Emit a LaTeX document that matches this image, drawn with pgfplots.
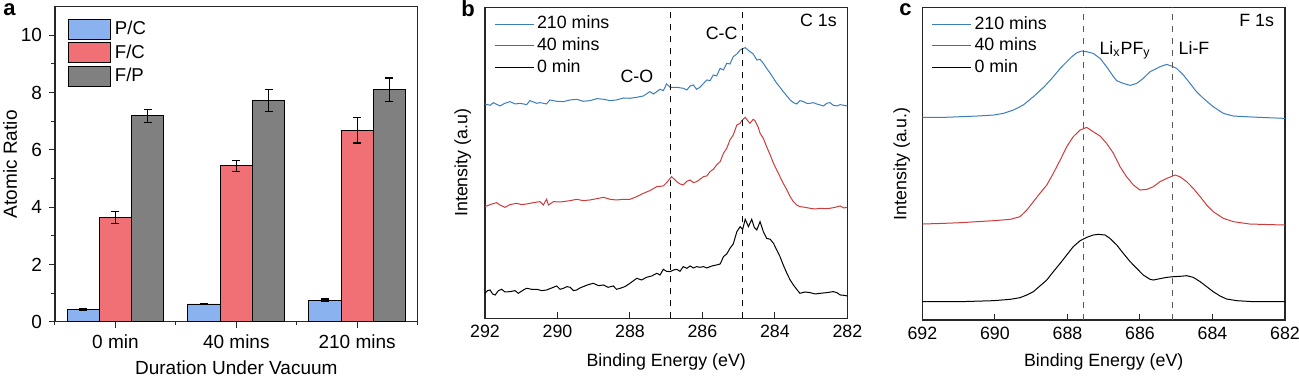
\documentclass[border=0pt]{standalone}
\usepackage{fontspec}
\setmainfont{Liberation Sans}
\usepackage{pgfplots}
\pgfplotsset{compat=1.18}
\definecolor{barblue}{RGB}{138,178,238}
\definecolor{barred}{RGB}{240,112,118}
\definecolor{bargray}{RGB}{128,128,128}
\definecolor{lineblue}{RGB}{60,125,190}
\definecolor{linered}{RGB}{205,60,60}
\newcommand\fa{\fontsize{9.5}{11}\selectfont}
\newcommand\fb{\fontsize{8.9}{10}\selectfont}
\pgfplotsset{
  every axis/.append style={
    scale only axis, anchor=south west,
    axis line style={line width=0.6pt, black!85},
    every tick/.style={line width=0.5pt, black!85},
    /pgf/number format/assume math mode=true,
    clip=false,
  },
}
\begin{document}
\begin{tikzpicture}
\useasboundingbox (0,0) rectangle (649.5pt,188pt);
% ---------------- panel a ----------------
\begin{axis}[
  at={(27.5pt,27.15pt)}, width=181.3pt, height=157.5pt,
  tick label style={font=\fa},
  ybar, bar width=0.267,
  xmin=-0.5, xmax=2.5, ymin=0, ymax=11,
  xtick={0,1,2}, xticklabels={0 min,40 mins,210 mins},
  minor xtick={-0.5,0.5,1.5,2.5},
  ytick={0,2,4,6,8,10}, minor ytick={1,3,5,7,9},
  tick pos=left, tick align=outside,
  major tick length=3pt, minor tick length=1.8pt,
  xlabel={Duration Under Vacuum}, ylabel={Atomic Ratio},
  xlabel style={at={(axis description cs:0.5,-0.147)}, anchor=center, font=\fa},
  ylabel style={at={(axis description cs:-0.124,0.5)}, anchor=center, font=\fa},
  legend cell align=left,
  legend image code/.code={\draw[#1, draw=black, line width=0.45pt] (0pt,-5pt) rectangle (21pt,5pt);},
  legend style={at={(axis description cs:0.036,0.965)}, anchor=north west, draw=none, fill=none,
     inner sep=0pt, row sep=1pt, font=\fontsize{9.3}{11}\selectfont,
     nodes={inner ysep=0.6pt, inner xsep=1.8pt, text height=7.5pt, text depth=2.2pt}},
  error bars/y dir=both, error bars/y explicit,
  error bars/error mark options={rotate=90, mark size=2pt, line width=0.6pt, black},
  error bars/error bar style={line width=0.6pt, black},
]
\addplot[fill=barblue, draw=black, line width=0.45pt, bar shift=-0.267]
  coordinates {(0,0.44) +- (0,0.03) (1,0.62) +- (0,0.02) (2,0.75) +- (0,0.04)};
\addplot[fill=barred, draw=black, line width=0.45pt, bar shift=0]
  coordinates {(0,3.63) +- (0,0.21) (1,5.44) +- (0,0.19) (2,6.68) +- (0,0.44)};
\addplot[fill=bargray, draw=black, line width=0.45pt, bar shift=0.267]
  coordinates {(0,7.19) +- (0,0.23) (1,7.72) +- (0,0.39) (2,8.10) +- (0,0.41)};
\legend{P/C,F/C,F/P}
\end{axis}
\node[font=\fontsize{11}{13}\selectfont\bfseries] at (4.8pt,183pt) {a};
% ---------------- panel b ----------------
\begin{axis}[
  at={(242.5pt,28.85pt)}, width=181.2pt, height=155.5pt,
  tick label style={font=\fb},
  x dir=reverse, xmin=282, xmax=292, ymin=45, ymax=978,
  xtick={282,284,286,288,290,292}, ytick=\empty,
  xtick pos=bottom, tick align=inside, major tick length=3pt,
  xlabel={Binding Energy (eV)}, ylabel={Intensity (a.u)},
  xlabel style={at={(axis description cs:0.5,-0.14)}, anchor=center, font=\fb},
  ylabel style={at={(axis description cs:-0.061,0.5)}, anchor=center, font=\fb},
  legend cell align=left,
  legend image code/.code={\draw[#1] (0pt,0pt) -- (19.5pt,0pt);},
  legend style={at={(axis description cs:0.024,0.98)}, anchor=north west, draw=none, fill=none,
     inner sep=0pt, row sep=0.5pt, font=\fb,
     nodes={inner ysep=1pt, inner xsep=1.5pt, text height=6.5pt, text depth=1.8pt}},
]
\addplot[lineblue, line width=0.5pt] coordinates {
(292.00,688) (291.86,684) (291.77,692) (291.59,682) (291.45,690) (291.31,695) (291.17,688) (291.03,690)
(290.85,686) (290.76,698) (290.57,690) (290.48,692) (290.30,688) (290.21,700) (290.02,696) (289.84,695)
(289.65,700) (289.47,702) (289.29,696) (289.10,698) (288.91,704) (288.73,702) (288.55,698) (288.37,700)
(288.18,706) (288.00,705) (287.81,708) (287.63,712) (287.45,725) (287.35,718) (287.17,732) (287.08,728)
(286.99,748) (286.89,738) (286.71,738) (286.53,735) (286.43,730) (286.34,742) (286.25,745) (286.16,732)
(286.07,738) (285.88,760) (285.79,758) (285.70,775) (285.61,772) (285.51,795) (285.42,790) (285.33,810)
(285.24,808) (285.15,830) (285.05,838) (284.96,850) (284.82,857) (284.69,845) (284.60,838) (284.50,820)
(284.41,822) (284.32,810) (284.23,795) (284.13,780) (284.04,765) (283.95,750) (283.86,738) (283.77,725)
(283.67,712) (283.58,700) (283.49,692) (283.40,688) (283.31,698) (283.21,695) (283.12,690) (283.03,690)
(282.94,692) (282.85,688) (282.75,685) (282.66,682) (282.57,690) (282.48,692) (282.39,684) (282.29,682)
(282.20,686) (282.10,684) (282.00,682)};
\addplot[linered, line width=0.5pt] coordinates {
(292.00,380) (291.86,386) (291.68,392) (291.59,385) (291.45,378) (291.31,386) (291.13,390) (290.99,386)
(290.85,388) (290.66,392) (290.48,395) (290.39,385) (290.30,402) (290.25,385) (290.11,395) (289.93,394)
(289.84,395) (289.65,398) (289.47,402) (289.29,398) (289.10,400) (288.91,404) (288.73,408) (288.55,402)
(288.37,400) (288.18,402) (288.00,402) (287.81,410) (287.63,420) (287.45,428) (287.26,440) (287.08,442)
(286.99,452) (286.85,470) (286.71,455) (286.62,448) (286.53,445) (286.43,456) (286.34,460) (286.25,452)
(286.16,455) (286.07,462) (285.97,470) (285.88,472) (285.79,485) (285.70,492) (285.61,505) (285.51,515)
(285.42,540) (285.33,555) (285.24,580) (285.15,595) (285.05,625) (284.96,630) (284.92,638) (284.82,648)
(284.73,635) (284.69,630) (284.60,642) (284.55,638) (284.46,618) (284.41,600) (284.32,585) (284.23,560)
(284.13,535) (284.04,510) (283.95,490) (283.86,470) (283.77,450) (283.67,430) (283.58,410) (283.49,395)
(283.40,385) (283.31,380) (283.17,378) (283.03,375) (282.89,373) (282.75,375) (282.61,374) (282.48,375)
(282.34,378) (282.20,382) (282.10,376) (282.00,378)};
\addplot[black, line width=0.5pt] coordinates {
(292.00,120) (291.93,128) (291.86,130) (291.79,118) (291.72,115) (291.63,128) (291.54,132) (291.45,124)
(291.31,125) (291.17,128) (291.08,120) (290.94,130) (290.85,135) (290.71,132) (290.57,132) (290.43,128)
(290.30,130) (290.16,136) (290.02,142) (289.93,132) (289.84,135) (289.74,140) (289.65,138) (289.56,128)
(289.47,130) (289.38,136) (289.29,140) (289.15,146) (289.01,150) (288.87,143) (288.73,145) (288.60,138)
(288.46,142) (288.37,132) (288.27,135) (288.14,140) (288.00,150) (287.90,158) (287.81,165) (287.68,160)
(287.54,168) (287.40,172) (287.26,180) (287.17,175) (287.08,192) (286.99,186) (286.89,185) (286.80,190)
(286.71,192) (286.62,186) (286.53,200) (286.43,195) (286.34,202) (286.25,196) (286.16,200) (286.07,198)
(285.97,200) (285.88,196) (285.79,200) (285.70,203) (285.61,205) (285.51,208) (285.42,230) (285.33,238)
(285.24,255) (285.15,268) (285.05,305) (284.96,320) (284.89,312) (284.82,342) (284.73,320) (284.64,342)
(284.57,318) (284.50,310) (284.41,335) (284.32,305) (284.23,285) (284.13,282) (284.04,270) (283.95,250)
(283.86,230) (283.77,205) (283.67,180) (283.58,160) (283.49,145) (283.40,132) (283.31,120) (283.17,124)
(283.03,122) (282.89,118) (282.75,120) (282.57,122) (282.39,125) (282.29,122) (282.20,115) (282.10,114)
(282.00,112)};
\addplot[black, dashed, line width=0.6pt, forget plot] coordinates {(286.88,45) (286.88,978)};
\addplot[black, dashed, line width=0.6pt, forget plot] coordinates {(284.89,45) (284.89,978)};
\legend{210 mins,40 mins,0 min}
\node[font=\fb] at (axis cs:287.81,770) {C-O};
\node[font=\fb] at (axis cs:285.47,900) {C-C};
\node[font=\fb] at (axis cs:282.80,940) {C 1s};
\end{axis}
\node[font=\fontsize{11}{13}\selectfont\bfseries] at (234pt,183.5pt) {b};
% ---------------- panel c ----------------
\begin{axis}[
  at={(461.2pt,28pt)}, width=181.3pt, height=156.3pt,
  tick label style={font=\fb},
  x dir=reverse, xmin=682, xmax=692, ymin=40, ymax=978,
  xtick={682,684,686,688,690,692}, ytick=\empty,
  xtick pos=bottom, tick align=inside, major tick length=3pt,
  xlabel={Binding Energy (eV)}, ylabel={Intensity (a.u.)},
  xlabel style={at={(axis description cs:0.5,-0.133)}, anchor=center, font=\fb},
  ylabel style={at={(axis description cs:-0.057,0.5)}, anchor=center, font=\fb},
  legend cell align=left,
  legend image code/.code={\draw[#1] (0pt,0pt) -- (19.5pt,0pt);},
  legend style={at={(axis description cs:0.024,0.98)}, anchor=north west, draw=none, fill=none,
     inner sep=0pt, row sep=0.5pt, font=\fb,
     nodes={inner ysep=1pt, inner xsep=1.5pt, text height=6.5pt, text depth=1.8pt}},
]
\addplot[lineblue, line width=0.5pt] coordinates {
(692.00,648) (691.42,648) (690.96,650) (690.50,652) (690.04,655) (689.77,660) (689.49,670) (689.22,685)
(688.94,710) (688.66,738) (688.43,765) (688.20,795) (688.02,815) (687.88,830) (687.74,842) (687.61,847)
(687.47,845) (687.29,840) (687.10,825) (686.92,800) (686.73,770) (686.64,758) (686.46,750) (686.27,744)
(686.09,750) (685.91,765) (685.72,785) (685.45,800) (685.26,807) (685.13,802) (684.99,795) (684.80,775)
(684.62,750) (684.44,725) (684.25,705) (683.98,680) (683.70,660) (683.42,652) (683.06,650) (682.69,648)
(682.00,645)};
\addplot[linered, line width=0.5pt] coordinates {
(692.00,328) (691.42,330) (690.96,332) (690.50,335) (690.04,338) (689.58,342) (689.31,350) (689.12,370)
(688.94,395) (688.76,420) (688.57,445) (688.39,480) (688.20,520) (688.02,560) (687.84,590) (687.65,610)
(687.47,618) (687.29,605) (687.10,592) (686.92,570) (686.73,540) (686.55,500) (686.37,470) (686.18,445)
(686.00,430) (685.81,432) (685.63,440) (685.45,455) (685.26,465) (685.03,475) (684.90,470) (684.71,455)
(684.53,435) (684.34,410) (684.16,385) (683.98,365) (683.70,345) (683.42,335) (682.97,328) (682.00,325)};
\addplot[black, line width=0.5pt] coordinates {
(692.00,95) (690.96,95) (690.04,98) (689.58,102) (689.31,107) (689.12,115) (688.94,125) (688.76,142)
(688.57,160) (688.39,185) (688.20,210) (688.02,235) (687.84,260) (687.65,278) (687.47,288) (687.29,295)
(687.15,297) (686.96,295) (686.83,285) (686.64,265) (686.46,240) (686.27,215) (686.09,195) (685.91,175)
(685.72,162) (685.63,160) (685.45,164) (685.26,168) (685.08,170) (684.90,171) (684.71,173) (684.53,168)
(684.34,155) (684.16,140) (683.98,125) (683.79,112) (683.61,103) (683.33,98) (682.87,95) (682.00,95)};
\addplot[black!65, dashed, line width=0.6pt, forget plot] coordinates {(687.56,40) (687.56,978)};
\addplot[black!65, dashed, line width=0.6pt, forget plot] coordinates {(685.10,40) (685.10,978)};
\legend{210 mins,40 mins,0 min}
\node[font=\fb] at (axis cs:686.41,848) {Li\textsubscript{x}PF\textsubscript{y}};
\node[font=\fb] at (axis cs:684.51,855) {Li-F};
\node[font=\fb] at (axis cs:682.78,938) {F 1s};
\end{axis}
\node[font=\fontsize{11}{13}\selectfont\bfseries] at (452.8pt,183pt) {c};
\end{tikzpicture}
\end{document}
